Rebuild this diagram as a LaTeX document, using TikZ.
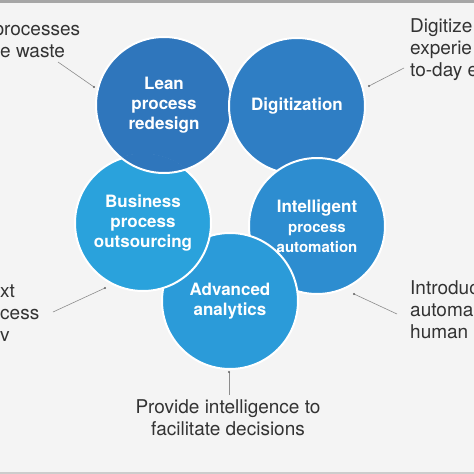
\documentclass[tikz,border=0pt]{standalone}
\usepackage{fontspec}
\setmainfont{TeX Gyre Heros}
\usepackage{tikz}
\usetikzlibrary{calc}
\usetikzlibrary{positioning}
\usepackage{xcolor}

\definecolor{paper}{HTML}{F4F4F4}
\definecolor{leanblue}{HTML}{2F76BC}
\definecolor{digiblue}{HTML}{2F7EC4}
\definecolor{autoblue}{HTML}{2D8DD0}
\definecolor{anablue}{HTML}{2B9BD9}
\definecolor{bpoblue}{HTML}{2AA2DC}
\definecolor{txtgray}{HTML}{333333}
\definecolor{linegray}{HTML}{8C8C8C}

\begin{document}
\begin{tikzpicture}[x=1pt,y=-1pt,
			Ball/.style={circle,draw=white,line width=2pt,minimum size=136pt,inner sep=0pt,
				text=white,align=center,font=\fontsize{17}{20}\selectfont\bfseries},
			Note/.style={text=txtgray,inner sep=0pt,font=\fontsize{19}{22}\selectfont},
			Lead/.style={draw=linegray,line width=0.6pt},
			]

			%frame
			\useasboundingbox (0,0) rectangle (474,474);
			\clip (0,0) rectangle (474,474);
			\fill[paper] (0,0) rectangle (474,474);
			\fill[black!35] (0,0) rectangle (474,2.5);
			\fill[black!20] (0,471.5) rectangle (474,474);

			%circles
			\node[Ball,fill=leanblue] (Lean) at (164,105) {Lean\\process\\redesign};
			\node[Ball,fill=digiblue] (Digital) at (297,106) {Digitization};
			\node[Ball,fill=autoblue] (Automation) at (317,226)
				{Intelligent\\{\fontsize{15}{18}\selectfont process}\\{\fontsize{15}{18}\selectfont automation}};
			\node[Ball,fill=anablue] (Analytics) at (230,301) {Advanced\\analytics};
			\node[Ball,fill=bpoblue] (Outsourcing) at (143,223) {Business\\process\\outsourcing};

			%lean over outsourcing
			\begin{scope}
				\clip (Outsourcing.center) circle (69.5);
				\fill[leanblue,draw=white,line width=2pt] (Lean.center) circle (68);
			\end{scope}

			%notes (base = last line)
			\node[Note,anchor=base west,align=left] (WasteNote) at (-6.6,57)
				{processes\\\hspace*{6.6pt}e waste};
			\node[Note,anchor=base west,align=left] (DigitNote) at (410,76)
				{Digitize\\experie\\to-day e};
			\node[Note,anchor=base west,align=left] (BpoNote) at (0,341)
				{xt\\cess\\v};
			\node[Note,anchor=base west,align=left] (AutoNote) at (410,338)
				{Introduc\\automa\\human};
			\node[Note,anchor=base,align=center] (AnaNote) at (228,435)
				{Provide intelligence to\\facilitate decisions};

			%leader ends
			\coordinate (WasteA) at (58,62);
			\coordinate (WasteB) at (94,87);
			\coordinate (DigitA) at (404,68);
			\coordinate (DigitB) at (369,86);
			\coordinate (BpoA) at (53,312);
			\coordinate (BpoB) at (105,288);
			\coordinate (AutoA) at (397,314);
			\coordinate (AutoB) at (354,294);
			\coordinate (AnaA) at (229,395);
			\coordinate (AnaB) at (229,372);

			%leaders
			\foreach \n in {Waste,Digit,Bpo,Auto,Ana}
			{
				\draw[Lead] (\n A) -- (\n B);
				\fill[linegray!70!black] (\n B) circle (1.2);
			}

	\end{tikzpicture}
\end{document}
